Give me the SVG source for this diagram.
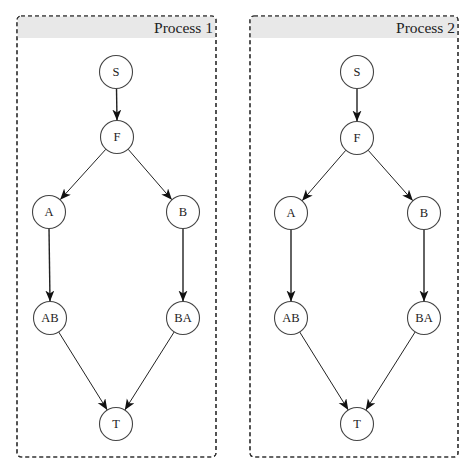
<svg xmlns="http://www.w3.org/2000/svg" width="474" height="474" viewBox="0 0 474 474">
<style>
.box{fill:#fff;stroke:#333;stroke-width:1.2;stroke-dasharray:4,3}
.hdr{fill:#e8e8e8}
.title{font-family:"Liberation Serif","DejaVu Serif",serif;font-size:15.5px;fill:#222;text-anchor:end}
.node circle{fill:#fff;stroke:#444;stroke-width:1.1}
.node text{font-family:"Liberation Serif","DejaVu Serif",serif;font-size:12.5px;fill:#222;text-anchor:middle;dominant-baseline:central}
.e{stroke:#222;stroke-width:1;fill:none;marker-end:url(#ah)}
.v{stroke-width:1.4}
</style>
<defs>
<marker id="ah" markerUnits="userSpaceOnUse" markerWidth="12" markerHeight="10" refX="11" refY="4.5" orient="auto">
<path d="M0,0 L11,4.5 L0,9 L3,4.5 z" fill="#111"/>
</marker>
</defs>
<g id="cluster1">
<rect class="box" x="17" y="16" width="199" height="441" rx="4"/>
<path class="hdr" d="M17.6,20 a4,4 0 0 1 4,-3.4 h190 a4,4 0 0 1 3.8,3.4 v18 h-197.8 z"/>
<rect class="box" x="17" y="16" width="199" height="441" rx="4" style="fill:none"/>
<text class="title" x="213" y="33">Process 1</text>
</g>
<g id="cluster2">
<rect class="box" x="250" y="16" width="208" height="441" rx="4"/>
<path class="hdr" d="M250.6,20 a4,4 0 0 1 4,-3.4 h199 a4,4 0 0 1 3.8,3.4 v18 h-206.8 z"/>
<rect class="box" x="250" y="16" width="208" height="441" rx="4" style="fill:none"/>
<text class="title" x="455" y="33">Process 2</text>
</g>
<g id="edges">
<line class="e v" x1="116.5" y1="88.5" x2="117" y2="120.5"/>
<line class="e" x1="105.9" y1="149.2" x2="60.1" y2="199.8"/>
<line class="e" x1="128.1" y1="149.2" x2="171.9" y2="199.8"/>
<line class="e v" x1="49" y1="228.5" x2="50" y2="301.5"/>
<line class="e v" x1="183" y1="228.5" x2="183" y2="301.5"/>
<line class="e" x1="58.7" y1="332" x2="107.3" y2="410"/>
<line class="e" x1="174.2" y1="331.9" x2="124.8" y2="410.1"/>
<line class="e v" x1="357" y1="88.5" x2="357" y2="121.5"/>
<line class="e" x1="345.9" y1="150.2" x2="302.1" y2="200.8"/>
<line class="e" x1="368.1" y1="150.2" x2="412.9" y2="200.8"/>
<line class="e v" x1="291" y1="229.5" x2="291" y2="301.5"/>
<line class="e v" x1="424" y1="229.5" x2="424" y2="301.5"/>
<line class="e" x1="299.7" y1="332" x2="348.3" y2="410"/>
<line class="e" x1="415.2" y1="331.9" x2="365.8" y2="410.1"/>
</g>
<g id="p1_S" class="node"><circle cx="116" cy="72" r="16.5"/><text x="116" y="72">S</text></g>
<g id="p1_F" class="node"><circle cx="117" cy="137" r="16.5"/><text x="117" y="137">F</text></g>
<g id="p1_A" class="node"><circle cx="49" cy="212" r="16.5"/><text x="49" y="212">A</text></g>
<g id="p1_B" class="node"><circle cx="183" cy="212" r="16.5"/><text x="183" y="212">B</text></g>
<g id="p1_AB" class="node"><circle cx="50" cy="318" r="16.5"/><text x="50" y="318">AB</text></g>
<g id="p1_BA" class="node"><circle cx="183" cy="318" r="16.5"/><text x="183" y="318">BA</text></g>
<g id="p1_T" class="node"><circle cx="116" cy="424" r="16.5"/><text x="116" y="424">T</text></g>
<g id="p2_S" class="node"><circle cx="357" cy="72" r="16.5"/><text x="357" y="72">S</text></g>
<g id="p2_F" class="node"><circle cx="357" cy="138" r="16.5"/><text x="357" y="138">F</text></g>
<g id="p2_A" class="node"><circle cx="291" cy="213" r="16.5"/><text x="291" y="213">A</text></g>
<g id="p2_B" class="node"><circle cx="424" cy="213" r="16.5"/><text x="424" y="213">B</text></g>
<g id="p2_AB" class="node"><circle cx="291" cy="318" r="16.5"/><text x="291" y="318">AB</text></g>
<g id="p2_BA" class="node"><circle cx="424" cy="318" r="16.5"/><text x="424" y="318">BA</text></g>
<g id="p2_T" class="node"><circle cx="357" cy="424" r="16.5"/><text x="357" y="424">T</text></g>
</svg>
